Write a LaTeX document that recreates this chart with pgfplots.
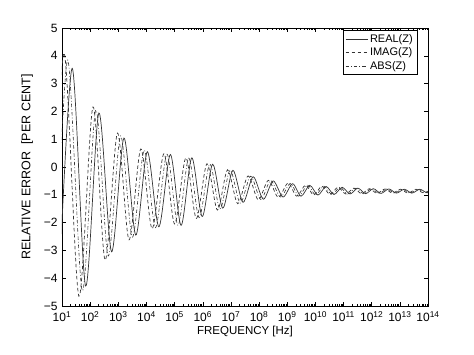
\documentclass[border=0pt]{standalone}
\usepackage{fontspec}
\setmainfont{Liberation Sans}
\usepackage{pgfplots}
\pgfplotsset{compat=1.18}
\begin{document}
\begin{tikzpicture}
\begin{axis}[
  at={(0,0)}, anchor=south west,
  scale only axis, width=366bp, height=278bp,
  xmin=1, xmax=14, ymin=-5, ymax=5,
  xtick={1,2,3,4,5,6,7,8,9,10,11,12,13,14},
  xticklabels={10\textsuperscript{1},10\textsuperscript{2},10\textsuperscript{3},10\textsuperscript{4},10\textsuperscript{5},10\textsuperscript{6},10\textsuperscript{7},10\textsuperscript{8},10\textsuperscript{9},10\textsuperscript{10},10\textsuperscript{11},10\textsuperscript{12},10\textsuperscript{13},10\textsuperscript{14}},
  minor xtick={1.301,1.477,1.602,1.699,1.778,1.845,1.903,1.954,
               2.301,2.477,2.602,2.699,2.778,2.845,2.903,2.954,
               3.301,3.477,3.602,3.699,3.778,3.845,3.903,3.954,
               4.301,4.477,4.602,4.699,4.778,4.845,4.903,4.954,
               5.301,5.477,5.602,5.699,5.778,5.845,5.903,5.954,
               6.301,6.477,6.602,6.699,6.778,6.845,6.903,6.954,
               7.301,7.477,7.602,7.699,7.778,7.845,7.903,7.954,
               8.301,8.477,8.602,8.699,8.778,8.845,8.903,8.954,
               9.301,9.477,9.602,9.699,9.778,9.845,9.903,9.954,
               10.301,10.477,10.602,10.699,10.778,10.845,10.903,10.954,
               11.301,11.477,11.602,11.699,11.778,11.845,11.903,11.954,
               12.301,12.477,12.602,12.699,12.778,12.845,12.903,12.954,
               13.301,13.477,13.602,13.699,13.778,13.845,13.903,13.954},
  ytick={-5,-4,-3,-2,-1,0,1,2,3,4,5},
  yticklabels={−5,−4,−3,−2,−1,0,1,2,3,4,5},
  tick align=inside, tick pos=both,
  major tick length=4bp, minor tick length=2bp,
  every tick/.style={black, line width=0.4pt},
  axis line style={line width=0.6pt},
  tick label style={font=\fontsize{12bp}{14bp}\selectfont},
  xticklabel style={yshift=-2bp},
  yticklabel style={xshift=-1bp},
  xlabel={FREQUENCY [Hz]},
  ylabel={RELATIVE ERROR\ \ [PER CENT]},
  xlabel style={font=\fontsize{11.5bp}{13bp}\selectfont, yshift=3bp},
  ylabel style={font=\fontsize{12.5bp}{14bp}\selectfont, yshift=4bp},
  legend style={at={(axis description cs:0.97,0.993)}, anchor=north east,
    draw=black, line width=0.5pt, inner sep=2pt, row sep=0pt,
    font=\fontsize{11bp}{13bp}\selectfont, cells={anchor=west},
    /tikz/every even column/.append style={column sep=1bp}},
  legend image code/.code={\draw[#1] (0bp,0bp) -- (22bp,0bp);},
]
\addplot[smooth, black!80, line width=0.7pt] table {
u v
0.88 -4.60
1.36 3.55
1.84 -4.28
2.31 1.94
2.76 -3.05
3.20 1.04
3.62 -2.45
4.03 0.55
4.44 -2.15
4.85 0.45
5.23 -2.10
5.61 0.33
5.98 -1.78
6.35 0.10
6.71 -1.48
7.07 -0.12
7.43 -1.27
7.79 -0.35
8.15 -1.16
8.50 -0.50
8.85 -1.08
9.19 -0.60
9.49 -1.05
9.80 -0.66
10.09 -1.01
10.38 -0.70
10.66 -0.99
10.95 -0.73
11.23 -0.97
11.51 -0.76
11.78 -0.96
12.06 -0.78
12.33 -0.95
12.61 -0.79
12.88 -0.94
13.16 -0.80
13.43 -0.94
13.71 -0.80
13.98 -0.93
14.26 -0.80
};
\addlegendentry{REAL(Z)}
\addplot[smooth, black!80, line width=0.7pt, dash pattern=on 3.5bp off 2.5bp] table {
u v
0.60 -4.90
1.07 4.10
1.60 -4.65
2.10 2.16
2.53 -3.35
2.97 1.22
3.38 -2.62
3.80 0.65
4.20 -2.22
4.62 0.48
5.00 -2.05
5.40 0.33
5.77 -1.85
6.15 0.12
6.52 -1.55
6.88 -0.10
7.24 -1.32
7.61 -0.32
7.97 -1.18
8.33 -0.48
8.68 -1.09
9.03 -0.58
9.34 -1.05
9.65 -0.65
9.94 -1.01
10.23 -0.69
10.52 -0.99
10.80 -0.73
11.08 -0.97
11.37 -0.76
11.64 -0.96
11.92 -0.78
12.19 -0.95
12.47 -0.79
12.74 -0.94
13.02 -0.80
13.29 -0.94
13.57 -0.80
13.84 -0.93
14.12 -0.80
};
\addlegendentry{IMAG(Z)}
\addplot[smooth, black!80, line width=0.6pt, dash pattern=on 3.5bp off 2bp on 0.8bp off 2bp] table {
u v
0.74 -4.70
1.20 3.85
1.72 -4.45
2.20 2.05
2.64 -3.20
3.08 1.12
3.50 -2.52
3.92 0.60
4.32 -2.18
4.73 0.46
5.12 -2.10
5.50 0.32
5.87 -1.82
6.25 0.11
6.61 -1.52
6.97 -0.11
7.33 -1.30
7.70 -0.33
8.06 -1.17
8.41 -0.49
8.76 -1.08
9.11 -0.59
9.41 -1.05
9.72 -0.65
10.01 -1.01
10.30 -0.69
10.59 -0.99
10.87 -0.73
11.15 -0.97
11.44 -0.76
11.71 -0.96
11.99 -0.78
12.26 -0.95
12.54 -0.79
12.81 -0.94
13.09 -0.80
13.36 -0.94
13.64 -0.80
13.91 -0.93
14.19 -0.80
};
\addlegendentry{ABS(Z)}
\end{axis}
\path[use as bounding box] (-62bp,-49bp) rectangle (412bp,306bp);
\end{tikzpicture}
\end{document}
